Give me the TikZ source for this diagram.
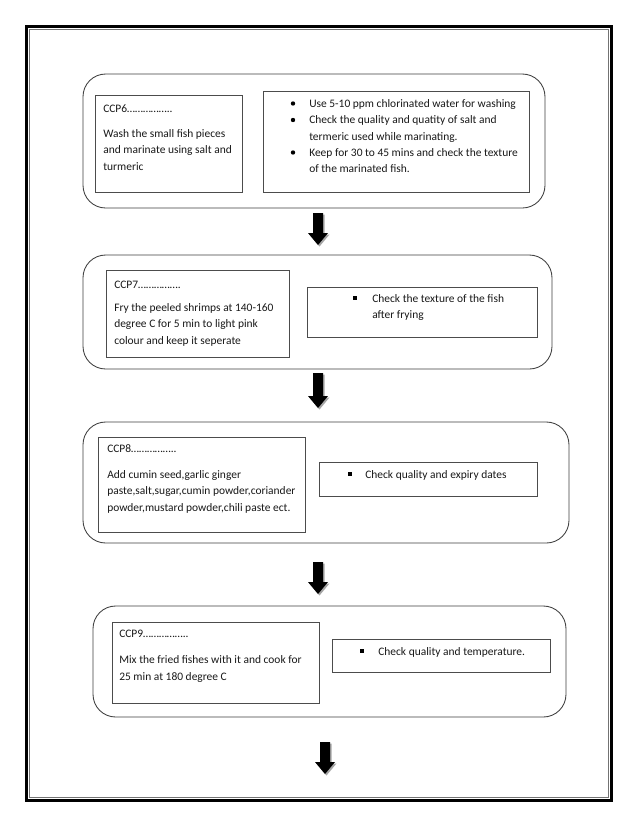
\documentclass[tikz,border=0pt]{standalone}
\usepackage{fontspec}
\setmainfont{Carlito}
\newcommand{\fs}{\fontsize{8.6}{12.2}\selectfont}
\tikzset{
  txt/.style={anchor=base west, inner sep=0pt, font=\fs, text=black!90},
  group/.style={draw=black!75, line width=0.65pt, rounded corners=17pt},
  ibox/.style={draw=black!70, line width=0.65pt},
}
% block arrow: center x, top y, tip y
\newcommand{\blkarrow}[3]{%
  \fill[black!35] (#1+1.5-5,#2+1.5) -- (#1+1.5+5,#2+1.5) -- (#1+1.5+5,#3+1.5-12) -- (#1+1.5+10,#3+1.5-12) -- (#1+1.5,#3+1.5) -- (#1+1.5-10,#3+1.5-12) -- (#1+1.5-5,#3+1.5-12) -- cycle;
  \fill[black] (#1-5,#2) -- (#1+5,#2) -- (#1+5,#3-12) -- (#1+10,#3-12) -- (#1,#3) -- (#1-10,#3-12) -- (#1-5,#3-12) -- cycle;
}
\begin{document}
\begin{tikzpicture}[x=0.75pt,y=-0.75pt]
\useasboundingbox (0,0) rectangle (638,826);
\fill[white] (0,0) rectangle (638,826);
% page border
\draw[line width=2.2pt, black] (26.5,26.5) rectangle (611.5,800.5);
\draw[line width=0.7pt, black!55] (29.5,29.5) rectangle (608.5,797.5);

% ---------- group 1
\draw[group] (83,74) rectangle (545,208);
\draw[ibox] (95,95) rectangle (242,192);
\draw[ibox] (263,91) rectangle (529,192);
\node[txt] (c6) at (103,112) {CCP6……………..};
\node[txt] (c6a) at (103,137) {Wash the small fish pieces};
\node[txt] (c6b) at (103,153.5) {and marinate using salt and};
\node[txt] (c6c) at (103,170) {turmeric};
\fill (293,103.5) circle (2.2);
\fill (293,120) circle (2.2);
\fill (293,152.5) circle (2.2);
\node[txt] (r6a) at (309,107) {Use 5-10 ppm chlorinated water for washing};
\node[txt] (r6b) at (309,123.5) {Check the quality and quatity of salt and};
\node[txt] (r6c) at (309,140) {termeric used while marinating.};
\node[txt] (r6d) at (309,156) {Keep for 30 to 45 mins and check the texture};
\node[txt] (r6e) at (309,172.5) {of the marinated fish.};

\blkarrow{318}{213}{245}

% ---------- group 2
\draw[group] (83,255) rectangle (552,369);
\draw[ibox] (106,270) rectangle (289,357);
\draw[ibox] (307,287) rectangle (537,337);
\node[txt] (c7) at (114,288) {CCP7…………….};
\node[txt] (c7a) at (114,311) {Fry the peeled shrimps at 140-160};
\node[txt] (c7b) at (114,327.5) {degree C for 5 min to light pink};
\node[txt] (c7c) at (114,344) {colour and keep it seperate};
\fill (353,296) rectangle (357,300);
\node[txt] (r7a) at (372,302) {Check the texture of the fish};
\node[txt] (r7b) at (372,318.5) {after frying};

\blkarrow{318}{373}{408}

% ---------- group 3
\draw[group] (83,422) rectangle (569,543);
\draw[ibox] (98,437) rectangle (305,532);
\draw[ibox] (319,462) rectangle (537,496);
\node[txt] (c8) at (107,452) {CCP8……………..};
\node[txt] (c8a) at (107,478) {Add cumin seed,garlic ginger};
\node[txt] (c8b) at (107,494.5) {paste,salt,sugar,cumin powder,coriander};
\node[txt] (c8c) at (107,511) {powder,mustard powder,chili paste ect.};
\fill (348,472) rectangle (352,476);
\node[txt] (r8a) at (365,478) {Check quality and expiry dates};

\blkarrow{318}{562}{594}

% ---------- group 4
\draw[group] (93,606) rectangle (566,717);
\draw[ibox] (112,622) rectangle (319,703);
\draw[ibox] (332,639) rectangle (550,672);
\node[txt] (c9) at (119,637) {CCP9……………..};
\node[txt] (c9a) at (119,663) {Mix the fried fishes with it and cook for};
\node[txt] (c9b) at (119,680) {25 min at 180 degree C};
\fill (360,649) rectangle (364,653);
\node[txt] (r9a) at (378,655) {Check quality and temperature.};

\blkarrow{325}{742}{774}
\end{tikzpicture}
\end{document}
